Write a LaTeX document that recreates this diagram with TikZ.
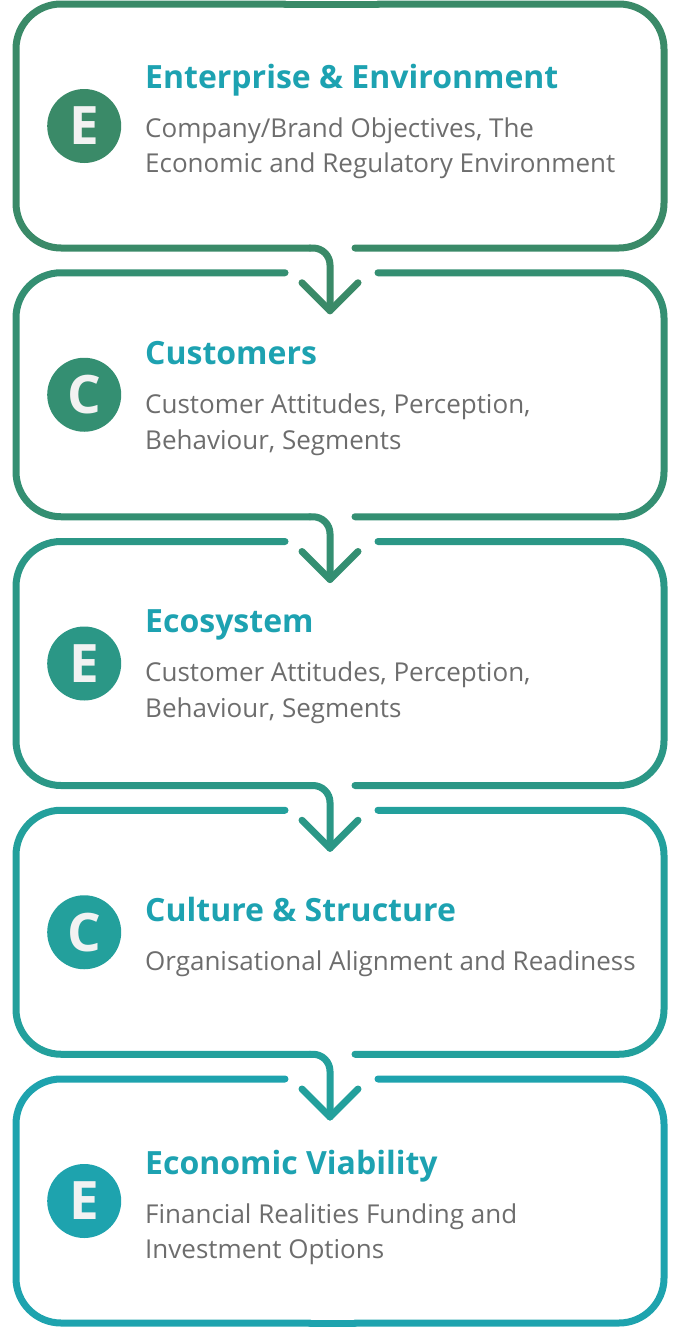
\documentclass[tikz,border=0pt]{standalone}
\usepackage{fontspec}
\setmainfont{Open Sans}
\usetikzlibrary{positioning,calc}
\definecolor{eco1}{HTML}{3A8A68}
\definecolor{eco2}{HTML}{348F72}
\definecolor{eco3}{HTML}{2B9786}
\definecolor{eco4}{HTML}{23A09C}
\definecolor{eco5}{HTML}{1EA3AE}
\definecolor{headcol}{HTML}{1DA2B1}
\definecolor{textcol}{HTML}{6D6D6D}
\definecolor{lettercol}{HTML}{F2F2F2}
\tikzset{
    stepbox/.style={
        rectangle,
        minimum width=648pt,
        minimum height=244pt,
        inner sep=0pt,
        outer sep=0pt,
    },
    badge/.style={
        circle,
        minimum size=74pt,
        inner sep=0pt,
        text=lettercol,
        font=\fontsize{53}{53}\selectfont\bfseries,
    },
    heading/.style={
        anchor=base west,
        inner sep=0pt,
        text=headcol,
        font=\fontsize{32}{36}\selectfont\bfseries,
    },
    blurb/.style={
        anchor=base west,
        inner sep=0pt,
        text width=500pt,
        align=flush left,
        text=textcol,
        font=\fontsize{26}{35.5}\selectfont,
    },
    flow/.style={
        line width=7pt,
        line cap=round,
        line join=round,
    },
    node distance=24.75pt,
  }

\begin{document}
\begin{tikzpicture}[x=1pt,y=-1pt]
              \useasboundingbox (0,0) rectangle (680,1328);
              \node [stepbox] (b1) at (340,126) {};
              \node [stepbox, below=of b1] (b2) {};
              \node [stepbox, below=of b2] (b3) {};
              \node [stepbox, below=of b3] (b4) {};
              \node [stepbox, below=of b4] (b5) {};

              \node [badge, fill=eco1, right=31pt of b1.west] (e1) {E};
              \node [badge, fill=eco2, right=31pt of b2.west] (e2) {C};
              \node [badge, fill=eco3, right=31pt of b3.west] (e3) {E};
              \node [badge, fill=eco4, right=31pt of b4.west] (e4) {C};
              \node [badge, fill=eco5, right=31pt of b5.west] (e5) {E};

              \node [heading] (h1) at ($(b1.center)+(-195,-38)$) {Enterprise \& Environment};
              \node [heading] (h2) at ($(b2.center)+(-195,-30)$) {Customers};
              \node [heading] (h3) at ($(b3.center)+(-195,-31)$) {Ecosystem};
              \node [heading] (h4) at ($(b4.center)+(-195,-11)$) {Culture \& Structure};
              \node [heading] (h5) at ($(b5.center)+(-195,-27)$) {Economic Viability};

              \node [blurb] (d1) at ($(h1.base west)+(0,49)$) {Company/Brand Objectives, The\\Economic and Regulatory Environment};
              \node [blurb] (d2) at ($(h2.base west)+(0,49)$) {Customer Attitudes, Perception,\\Behaviour, Segments};
              \node [blurb] (d3) at ($(h3.base west)+(0,49)$) {Customer Attitudes, Perception,\\Behaviour, Segments};
              \node [blurb] (d4) at ($(h4.base west)+(0,49)$) {Organisational Alignment and Readiness};
              \node [blurb] (d5) at ($(h5.base west)+(0,49)$) {Financial Realities Funding and\\Investment Options};

              % outlines, open where the arrows pass
              \foreach \k in {1,...,5} {
                \draw [flow, eco\k, rounded corners=45] ($(b\k.north)+(-55,0)$) -- (b\k.north west) -- (b\k.south west) -- ($(b\k.south)+(-30,0)$);
                \draw [flow, eco\k, rounded corners=45] ($(b\k.north)+(38,0)$) -- (b\k.north east) -- (b\k.south east) -- ($(b\k.south)+(15,0)$);
              }
              \draw [flow, eco1] ($(b1.north)+(-55,0)$) -- ($(b1.north)+(38,0)$);
              \draw [flow, eco5] ($(b5.south)+(-30,0)$) -- ($(b5.south)+(15,0)$);

              \foreach \k/\n in {1/2,2/3,3/4,4/5} {
                \draw [flow, eco\k, rounded corners=17] ($(b\k.south)+(-30,0)$) -- ($(b\k.south)+(-10,0)$) -- ($(b\n.north)+(-10,38)$);
                \draw [flow, eco\k] ($(b\n.north)+(-38,10)$) -- ($(b\n.north)+(-10,38)$) -- ($(b\n.north)+(18,10)$);
              }
            \end{tikzpicture}
\end{document}
